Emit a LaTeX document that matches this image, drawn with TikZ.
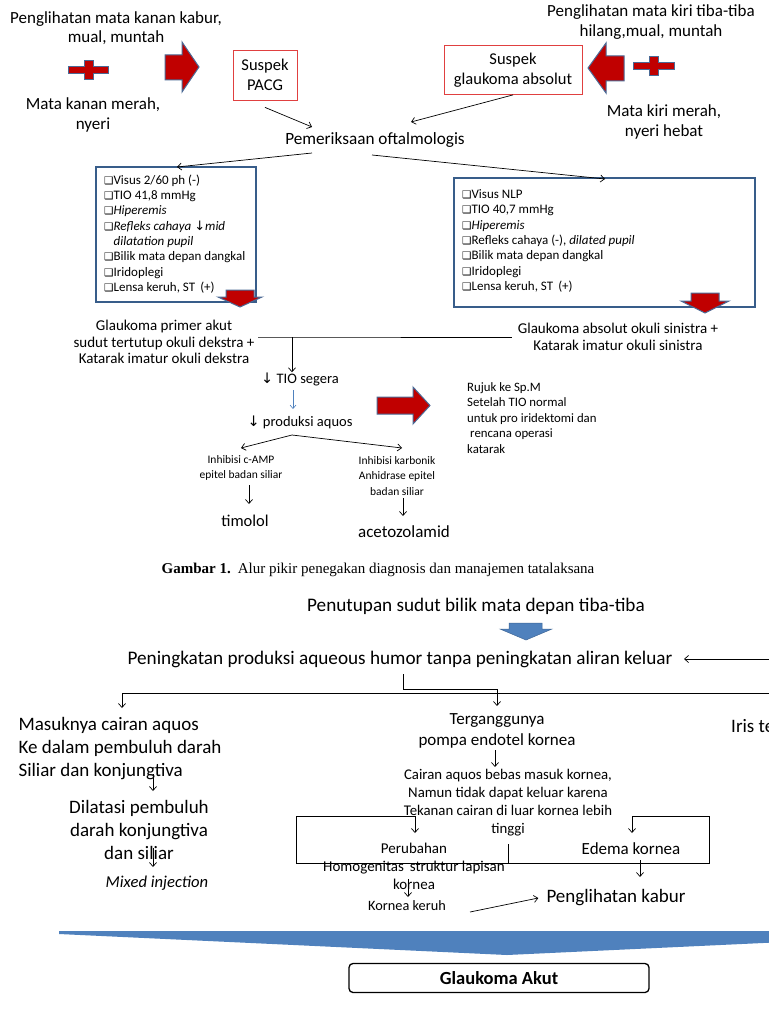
\documentclass[tikz,border=0pt]{standalone}
\usepackage{fontspec}
\setmainfont{Carlito}
\newfontfamily\sym{DejaVu Sans}
\newfontfamily\capfont{Liberation Serif}
\usetikzlibrary{arrows.meta}
\definecolor{dred}{HTML}{C00000}
\definecolor{aedge}{HTML}{4A6A96}
\definecolor{boxblue}{HTML}{385D8A}
\definecolor{lblue}{HTML}{4F81BD}
\definecolor{sred}{HTML}{E04040}
\newcommand\fs[2]{\fontsize{#1}{#2}\selectfont}
\newcommand\cb{{\sym\fontsize{10.5}{10.5}\selectfont ❑}}
\newcommand\da{{\sym ↓}}
\begin{document}
\begin{tikzpicture}[x=1pt,y=-1pt,
  txt/.style={inner sep=0pt, align=center},
  arr/.style={-{Straight Barb[length=4pt,width=7pt]}, line width=0.7pt},
  ln/.style={line width=0.7pt},
  redarr/.style={fill=dred, draw=aedge, line width=1pt, line join=miter},
  susbox/.style={draw=sred, line width=0.8pt, inner sep=0pt, align=center},
  infobox/.style={draw=boxblue, line width=1.3pt, inner sep=0pt},
  items/.style={inner sep=0pt, align=left, anchor=north west, font=\fs{13}{15.3}}]
\useasboundingbox (0,0) rectangle (768,1024);
\fill[white] (0,0) rectangle (768,1024);

% ---------- top part ----------
\node[txt, font=\fs{17}{19.5}] (symL) at (116,28) {Penglihatan mata kanan kabur,\\mual, muntah};
\node[txt, font=\fs{17}{20}] (redL) at (93,115) {Mata kanan merah,\\nyeri};
\node[txt, font=\fs{17}{19.5}] (symR) at (651,22) {Penglihatan mata kiri tiba-tiba\\hilang,mual, muntah};
\node[txt, font=\fs{17}{20}] (redR) at (664,122) {Mata kiri merah,\\nyeri hebat};

% crosses
\draw[redarr] (68,66.5) -- (84,66.5) -- (84,61) -- (93,61) -- (93,66.5) -- (108,66.5) -- (108,73.5) -- (93,73.5) -- (93,80) -- (84,80) -- (84,73.5) -- (68,73.5) -- cycle;
\draw[redarr] (633,63) -- (649,63) -- (649,57) -- (658,57) -- (658,63) -- (674,63) -- (674,70) -- (658,70) -- (658,76) -- (649,76) -- (649,70) -- (633,70) -- cycle;
% block arrows
\draw[redarr] (165,55) -- (182,55) -- (182,42) -- (199,67) -- (182,92) -- (182,80) -- (165,80) -- cycle;
\draw[redarr] (624,56) -- (606,56) -- (606,43) -- (588,68) -- (606,93) -- (606,81) -- (624,81) -- cycle;

\node[susbox, minimum width=64pt, minimum height=50pt, font=\fs{16.5}{20}] (pacg) at (265,75) {Suspek\\PACG};
\node[susbox, minimum width=138pt, minimum height=49pt, font=\fs{16.5}{20}] (absol) at (513,70) {Suspek\\glaukoma absolut};
\node[txt, font=\fs{17.2}{19}] (pem) at (375,140) {Pemeriksaan oftalmologis};

\coordinate (pemL) at (312,153);
\coordinate (pemR) at (372,155);
\draw[arr] ([yshift=-7pt]pacg.south) -- (312,127);
\draw[arr] (absol.south) -- (411,122);

% info boxes
\node[infobox, minimum width=160pt, minimum height=135pt] (lbox) at (176,234.5) {};
\node[infobox, minimum width=301pt, minimum height=129pt] (rbox) at (604.5,242.5) {};
\draw[arr] (pemL) -- (177,167);
\draw[arr] (pemR) -- (605,179);

\node[items] (ltxt) at (104,174.5) {\cb Visus 2/60 ph (-)\\
\cb TIO 41,8 mmHg\\
\cb\textit{Hiperemis}\\
\cb\textit{Refleks cahaya \da mid}\\
\hphantom{\cb}\textit{dilatation pupil}\\
\cb Bilik mata depan dangkal\\
\cb Iridoplegi\\
\cb Lensa keruh, ST\, (+)};
\node[items] (rtxt) at (462,189.5) {\cb Visus NLP\\
\cb TIO 40,7 mmHg\\
\cb\textit{Hiperemis}\\
\cb Refleks cahaya (-), \textit{dilated pupil}\\
\cb Bilik mata depan dangkal\\
\cb Iridoplegi\\
\cb Lensa keruh, ST\, (+)};

% red down arrows on boxes
\draw[redarr] (226,290) -- (254,290) -- (254,297) -- (262,297) -- (240,307) -- (218,297) -- (226,297) -- cycle;
\draw[redarr] (691,293) -- (719,293) -- (719,301) -- (729,301) -- (705,313) -- (681,301) -- (691,301) -- cycle;

\node[txt, font=\fs{15}{16.6}] (lres) at (164,342) {Glaukoma primer akut\\sudut tertutup okuli dekstra +\\Katarak imatur okuli dekstra};
\node[txt, font=\fs{15}{17}] (rres) at (618,337) {Glaukoma absolut okuli sinistra +\\Katarak imatur okuli sinistra};

\coordinate (j1) at (292,337);
\draw[ln] (258,337) -- (j1) -- (512,337);
\node[txt, font=\fs{14.5}{18}] (tio) at (300,379) {\da\ TIO segera};
\draw[arr] (j1) -- (tio.north -| j1);
\node[txt, font=\fs{14.5}{18}] (prod) at (300,422) {\da\ produksi aquos};
\draw[-{Straight Barb[length=3.5pt,width=6pt]}, lblue, line width=0.6pt] (293,390) -- (293,409);

\coordinate (br) at (292,435);
\node[txt, font=\fs{11.5}{15}] (inh1) at (241,468) {Inhibisi c-AMP\\epitel badan siliar};
\node[txt, font=\fs{11.5}{15.5}] (inh2) at (397,476) {Inhibisi karbonik\\Anhidrase epitel\\badan siliar};
\draw[arr] (br) -- (241,448);
\draw[arr] (br) -- (402,448);
\node[txt, font=\fs{16.5}{18}] (tim) at (245,521) {timolol};
\node[txt, font=\fs{17}{18}] (ace) at (404,532) {acetozolamid};
\draw[arr] (249,485) -- (249,504);
\draw[arr] (403,498) -- (403,516);

\draw[redarr] (377,397) -- (413,397) -- (413,387) -- (430,405.5) -- (413,424) -- (413,414) -- (377,414) -- cycle;
\node[items, font=\fs{12.8}{15.5}] (rujuk) at (467,382) {Rujuk ke Sp.M\\Setelah TIO normal\\untuk pro iridektomi dan\\\hspace{3pt}rencana operasi\\katarak};

\node[txt, font={\capfont\fs{15}{17}}] (cap) at (378,570) {\textbf{Gambar 1.}\hspace{7pt}Alur pikir penegakan diagnosis dan manajemen tatalaksana};

% ---------- bottom part ----------
\node[txt, font=\fs{19.2}{22}] (pen) at (476,606) {Penutupan sudut bilik mata depan tiba-tiba};
\draw[fill=lblue, draw=lblue!80!black, line width=0.5pt] (509,623) -- (542,623) -- (542,629) -- (552,629) -- (526,640) -- (500,629) -- (509,629) -- cycle;
\node[txt, font=\fs{19.2}{22}] (pening) at (400,659) {Peningkatan produksi aqueous humor tanpa peningkatan aliran keluar};
\draw[arr] (775,659) -- (684,659);

\coordinate (hL) at (122,693);
\draw[ln] (hL) -- (775,693);
\draw[arr] (hL) -- (122,708);
\draw[ln] (403,674) -- (403,689) -- (497,689);
\draw[arr] (497,689) -- (497,706);

\node[txt, align=left, font=\fs{19}{23}] (masuk) at (120,749) {Masuknya cairan aquos\\Ke dalam pembuluh darah\\Siliar dan konjungtiva};
\node[txt, font=\fs{19}{23}] (dilat) at (139,830) {Dilatasi pembuluh\\darah konjungtiva\\dan siliar};
\node[txt, font=\itshape\fs{16.6}{18}] (mixed) at (157,883) {Mixed injection};
\draw[arr] (153,774) -- (153,791);
\draw[arr] (153,848) -- (153,867);

\node[txt, font=\fs{17}{21}] (terg) at (497,731) {Terganggunya\\pompa endotel kornea};
\node[txt, font=\fs{14.8}{18}] (cair) at (508,803) {Cairan aquos bebas masuk kornea,\\Namun tidak dapat keluar karena\\Tekanan cairan di luar kornea lebih\\tinggi};
\draw[arr] (495,750) -- (495,767);

\draw[ln] (415,816) -- (296,816) -- (296,863) -- (709,863) -- (709,816) -- (632,816);
\draw[arr] (415,816) -- (415,833);
\draw[arr] (632,816) -- (632,833);
\draw[ln] (508,844) -- (508,863);

\node[txt, font=\fs{15}{18}] (perub) at (414,866) {Perubahan\\Homogenitas\, struktur lapisan\\kornea};
\draw[arr] (408,879) -- (408,897);
\node[txt, font=\fs{14.3}{16}] (keruh) at (407,906) {Kornea keruh};
\node[txt, font=\fs{17}{19}] (edema) at (631,849) {Edema kornea};
\draw[arr] (640,860) -- (640,877);
\node[txt, font=\fs{19}{21}] (kabur) at (616,898) {Penglihatan kabur};
\draw[arr] (470,912) -- ([xshift=-8pt]kabur.west);

\node[txt, anchor=west, font=\fs{19}{21}] (iris) at (731,726) {Iris te};

% big chevron
\fill[lblue] (59,931) -- (955,931) -- (955,934) -- (507,955) -- (59,934) -- cycle;
\node[draw, rounded corners=4pt, line width=1.3pt, minimum width=300pt, minimum height=29pt, inner sep=0pt, font=\bfseries\fs{18.5}{20}] (ga) at (499,978) {Glaukoma Akut};
\end{tikzpicture}
\end{document}
